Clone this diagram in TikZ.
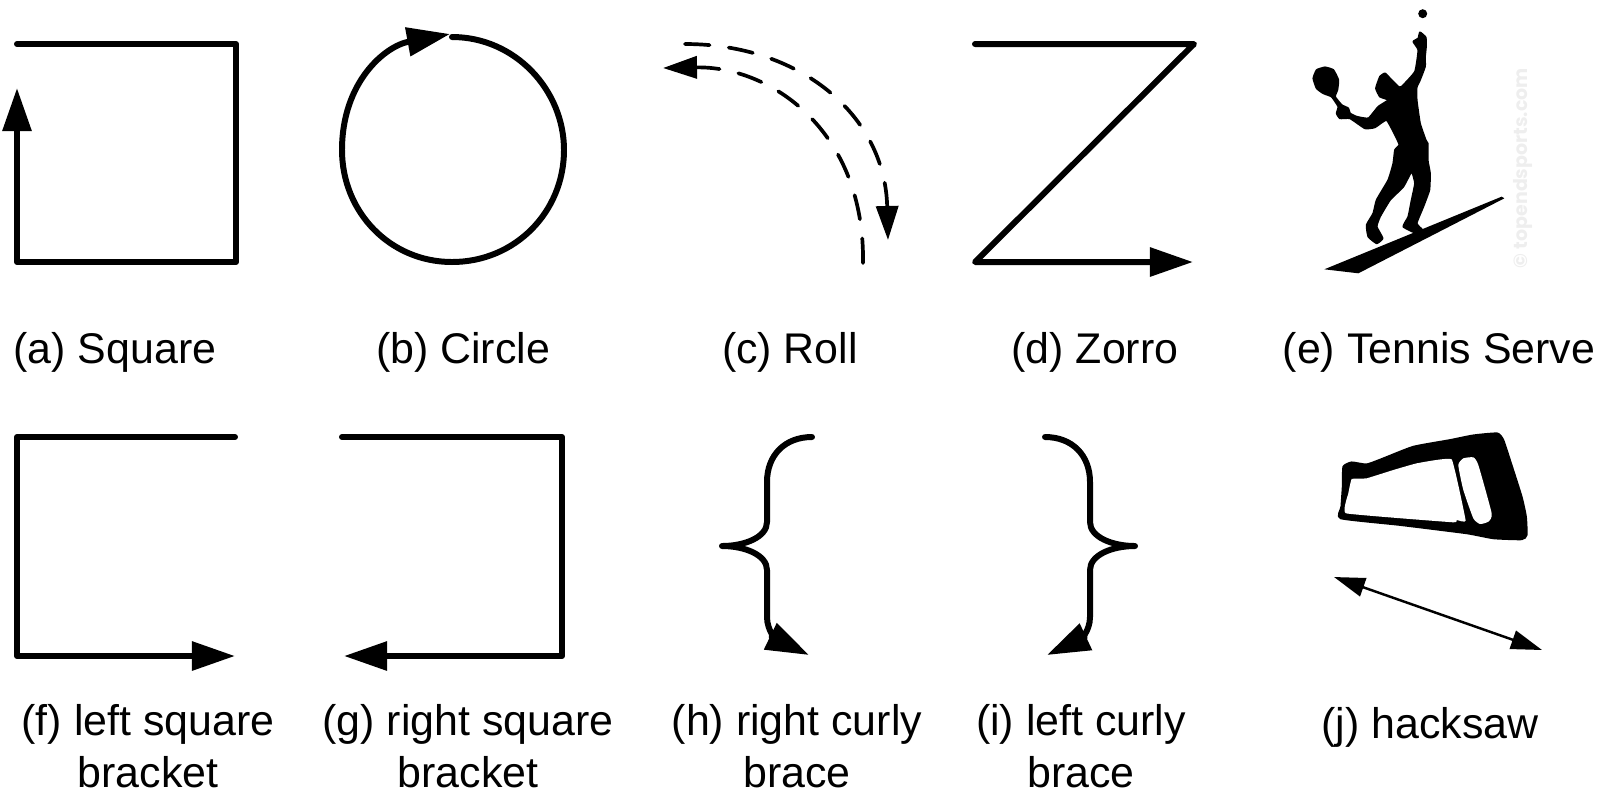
\documentclass[tikz,border=0pt]{standalone}
\usepackage{fontspec}
\setmainfont{Liberation Sans}
\newfontfamily\markfont{Poppins}
\usetikzlibrary{arrows.meta}
\definecolor{markgray}{HTML}{EEEEEE}
\begin{document}
\begin{tikzpicture}[>={Triangle[length=0.43cm,width=0.28cm]},x=0.01cm,y=-0.01cm,
	shape line/.style={line width=1.7pt,line cap=round,line join=round},
	roll line/.style={line width=1.05pt,line cap=round,dash pattern=on 7pt off 5.5pt,>={Triangle[length=0.34cm,width=0.22cm]}},
	solid shape/.style={draw,fill,line width=0.5pt,line join=round},
	caption/.style={font=\fontsize{12.2}{14.6}\selectfont,align=center,anchor=base,inner sep=0pt}]
	\useasboundingbox (0,0) rectangle (1600,799);
	% top row
	\draw[shape line,->] (17,44) -- (236,44) -- (236,262) -- (17,262) -- (17,88);
	\draw[shape line,->] (452,37) .. controls (515,37) and (564,90) .. (564,150) .. controls (564,212) and (515,262) .. (452,262) .. controls (390,262) and (342,212) .. (342,150) .. controls (342,82) and (385,46) .. (450,34);
	\draw[roll line,->] (685,44) .. controls (800,44) and (885,115) .. (888,240);
	\draw[roll line,->] (863,263) .. controls (865,130) and (770,66) .. (663,68);
	\draw[shape line,->] (975,44) -- (1194,44) -- (975,262) -- (1193,262);
	% tennis serve
	\node[rotate=90,font=\markfont\bfseries\fontsize{5.4}{7}\selectfont,text=markgray,inner sep=0pt] (mark) at (1523,168) {© topendsports.com};
	\fill (1422.7,13.7) circle (4.5);
	\begin{scope}[shift={(1260,0)},scale=0.3333]
		\path[solid shape] plot[smooth cycle,tension=0.25] coordinates {(480,97) (497,112) (498,140) (495,170) (495,200) (480,240) (470,262) (470,300) (480,370) (497,420) (503,430) (503,480) (510,520) (508,570) (490,620) (470,670) (487,690) (470,700) (430,680) (445,650) (455,600) (465,550) (455,515) (430,560) (390,600) (360,650) (350,680) (368,715) (350,730) (325,710) (320,675) (340,640) (350,600) (385,540) (400,490) (405,450) (418,435) (410,415) (380,360) (345,382) (315,385) (270,355) (240,355) (230,340) (235,320) (215,290) (190,280) (170,265) (160,235) (170,210) (195,202) (220,210) (235,240) (232,270) (225,290) (245,315) (265,325) (270,340) (290,350) (325,355) (355,320) (385,300) (360,290) (348,265) (360,230) (375,220) (390,235) (415,260) (425,260) (465,215) (475,150) (460,125) (475,115)};
		\fill (193,808) -- (725,590) -- (733,595) -- (295,820) -- cycle;
	\end{scope}
	% bottom row
	\draw[shape line,->] (235,437) -- (17,437) -- (17,656) -- (235,656);
	\draw[shape line,->] (342,437) -- (562,437) -- (562,656) -- (344,656);
	\draw[shape line,->] (812,437) .. controls (785,437) and (767,455) .. (767,482) -- (767,522) .. controls (767,537) and (745,546) .. (722,546) .. controls (745,546) and (767,555) .. (767,570) -- (767,617) .. controls (767,632) and (778,640) .. (809,655);
	\draw[shape line,->] (1045,437) .. controls (1072,437) and (1090,455) .. (1090,482) -- (1090,522) .. controls (1090,537) and (1112,546) .. (1135,546) .. controls (1112,546) and (1090,555) .. (1090,570) -- (1090,617) .. controls (1090,632) and (1079,640) .. (1047,655);
	% hacksaw
	\begin{scope}[shift={(1300,420)},scale=0.3333]
		\path[solid shape] plot[smooth cycle,tension=0.3] coordinates {(130,140) (155,127) (200,133) (250,115) (340,80) (450,60) (520,46) (592,40) (610,60) (630,120) (665,230) (678,290) (680,345) (665,358) (580,355) (500,340) (300,315) (122,295) (124,260) (128,200)};
		\fill[white] plot[smooth cycle,tension=0.15] coordinates {(155,177) (200,175) (280,150) (350,130) (455,118) (497,302) (470,300) (460,307) (138,280) (145,220)};
		\fill[white] plot[smooth cycle,tension=0.3] coordinates {(475,135) (490,115) (520,112) (535,135) (575,280) (565,305) (540,312) (520,295) (490,210)};
	\end{scope}
	\draw[line width=0.7pt,{Triangle[length=0.31cm,width=0.19cm]}-{Triangle[length=0.31cm,width=0.19cm]}] (1334,577) -- (1542,650);
	% captions
	\node[caption] (square) at (115,363) {(a) Square};
	\node[caption] (circle) at (463,363) {(b) Circle};
	\node[caption] (roll) at (790,363) {(c) Roll};
	\node[caption] (zorro) at (1095,363) {(d) Zorro};
	\node[caption] (serve) at (1439,363) {(e) Tennis Serve};
	\node[caption] (lsquare) at (148,787) {(f) left square\\bracket};
	\node[caption] (rsquare) at (468,787) {(g) right square\\bracket};
	\node[caption] (rcurly) at (797,787) {(h) right curly\\brace};
	\node[caption] (lcurly) at (1081,787) {(i) left curly\\brace};
	\node[caption] (hacksaw) at (1430,738) {(j) hacksaw};
\end{tikzpicture}
\end{document}
